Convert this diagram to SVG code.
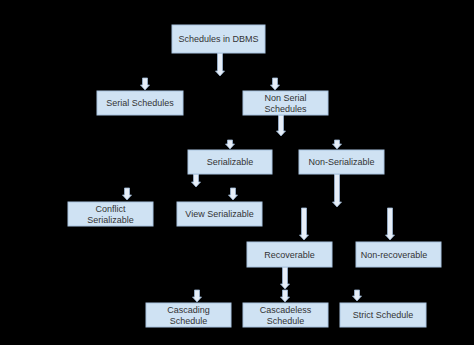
<svg xmlns="http://www.w3.org/2000/svg" width="474" height="345" viewBox="0 0 474 345">
<style>
.box{fill:#cfe2f3;stroke:#a9c4e0;stroke-width:1}
.t{font-family:"Liberation Sans",Arial,sans-serif;font-size:9px;fill:#333333;text-anchor:middle}
.a{fill:#e6eef8;stroke:#9db6d3;stroke-width:0.8;stroke-linejoin:miter}
</style>
<rect width="474" height="345" fill="#000000"/>
<g id="connectors">
<path class="a" d="M217.5,53 L222.5,53 L222.5,71 L224.5,71 L220,76 L215.5,71 L217.5,71 Z"/>
<path class="a" d="M142.5,78 L147.5,78 L147.5,85 L149.5,85 L145,90 L140.5,85 L142.5,85 Z"/>
<path class="a" d="M272.5,78 L277.5,78 L277.5,85 L279.5,85 L275,90 L270.5,85 L272.5,85 Z"/>
<path class="a" d="M278.5,115 L283.5,115 L283.5,131 L285.5,131 L281,136 L276.5,131 L278.5,131 Z"/>
<path class="a" d="M227.5,140 L232.5,140 L232.5,144 L234.5,144 L230,149 L225.5,144 L227.5,144 Z"/>
<path class="a" d="M334.5,140 L339.5,140 L339.5,144 L341.5,144 L337,149 L332.5,144 L334.5,144 Z"/>
<path class="a" d="M193.5,174 L198.5,174 L198.5,182 L200.5,182 L196,187 L191.5,182 L193.5,182 Z"/>
<path class="a" d="M124.5,188 L129.5,188 L129.5,195 L131.5,195 L127,200 L122.5,195 L124.5,195 Z"/>
<path class="a" d="M230.5,188 L235.5,188 L235.5,195 L237.5,195 L233,200 L228.5,195 L230.5,195 Z"/>
<path class="a" d="M334.5,174 L339.5,174 L339.5,202 L341.5,202 L337,207 L332.5,202 L334.5,202 Z"/>
<path class="a" d="M301.5,208 L306.5,208 L306.5,235 L308.5,235 L304,240 L299.5,235 L301.5,235 Z"/>
<path class="a" d="M387.5,208 L392.5,208 L392.5,235 L394.5,235 L390,240 L385.5,235 L387.5,235 Z"/>
<path class="a" d="M282.5,267 L287.5,267 L287.5,284 L289.5,284 L285,289 L280.5,284 L282.5,284 Z"/>
<path class="a" d="M282.5,290 L287.5,290 L287.5,297 L289.5,297 L285,302 L280.5,297 L282.5,297 Z"/>
<path class="a" d="M194.5,290 L199.5,290 L199.5,297 L201.5,297 L197,302 L192.5,297 L194.5,297 Z"/>
<path class="a" d="M354.5,290 L359.5,290 L359.5,296 L361.5,296 L357,301 L352.5,296 L354.5,296 Z"/>
</g>
<g id="n-schedules"><rect class="box" x="172" y="25" width="93" height="28"/><text class="t" x="218.5" y="42">Schedules in DBMS</text></g>
<g id="n-serial"><rect class="box" x="97" y="91" width="86" height="24"/><text class="t" x="140" y="106">Serial Schedules</text></g>
<g id="n-nonserial"><rect class="box" x="243" y="91" width="85" height="24"/><text class="t" x="285.5" y="101">Non Serial</text><text class="t" x="285.5" y="112">Schedules</text></g>
<g id="n-serializable"><rect class="box" x="188" y="150" width="84" height="24"/><text class="t" x="230" y="165">Serializable</text></g>
<g id="n-nonserializable"><rect class="box" x="299" y="150" width="85" height="24"/><text class="t" x="341.5" y="165">Non-Serializable</text></g>
<g id="n-conflict"><rect class="box" x="68" y="202" width="85" height="24"/><text class="t" x="110.5" y="212">Conflict</text><text class="t" x="110.5" y="223">Serializable</text></g>
<g id="n-view"><rect class="box" x="177" y="202" width="85" height="24"/><text class="t" x="219.5" y="217">View Serializable</text></g>
<g id="n-recoverable"><rect class="box" x="247" y="242" width="85" height="25"/><text class="t" x="289.5" y="257.5">Recoverable</text></g>
<g id="n-nonrecoverable"><rect class="box" x="356" y="242" width="85" height="25"/><text class="t" x="394" y="257.5">Non-recoverable</text></g>
<g id="n-cascading"><rect class="box" x="146" y="303" width="85" height="24"/><text class="t" x="188.5" y="313">Cascading</text><text class="t" x="188.5" y="324">Schedule</text></g>
<g id="n-cascadeless"><rect class="box" x="243" y="303" width="85" height="24"/><text class="t" x="285.5" y="313">Cascadeless</text><text class="t" x="285.5" y="324">Schedule</text></g>
<g id="n-strict"><rect class="box" x="340" y="303" width="86" height="24"/><text class="t" x="383" y="318">Strict Schedule</text></g>
</svg>
